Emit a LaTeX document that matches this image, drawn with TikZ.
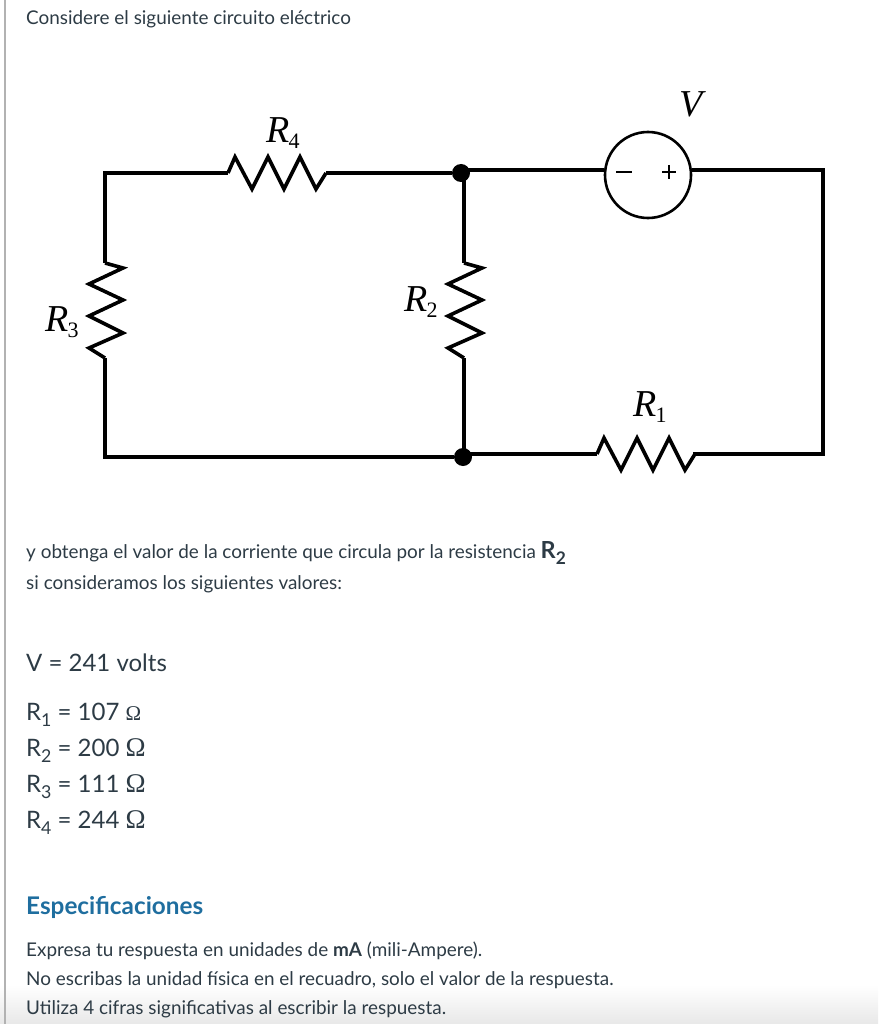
\documentclass[tikz,border=0pt]{standalone}
\usepackage{fontspec}
\setmainfont{Lato}
\newfontfamily\symbolfont{Liberation Serif}
\usetikzlibrary{positioning}
\definecolor{bodyink}{HTML}{2D3B45}
\definecolor{headink}{HTML}{1F6E9F}
\tikzset{
    wire/.style={line width=3.5pt, line join=miter},
    zigzag/.style={line width=3.6pt, line join=miter},
    junction/.style={circle, fill=black, inner sep=0pt, minimum size=18pt},
    source/.style={circle, draw, line width=2.6pt, inner sep=0pt, minimum size=86pt},
    symb/.style={inner sep=0pt, font=\symbolfont\itshape\fontsize{38}{38}\selectfont},
    txt/.style={anchor=base west, inner sep=0pt, text=bodyink, font=\fontsize{18.9}{22}\selectfont},
    big/.style={txt, font=\fontsize{24}{27}\selectfont}
}
\newcommand{\symsub}[2]{#1\kern-1pt\raisebox{-6pt}{\fontsize{22}{22}\selectfont\upshape #2}}
\newcommand{\lsub}[1]{\raisebox{-0.26em}{\fontsize{0.74em}{1em}\selectfont #1}}
\newcommand{\ohm}{{\symbolfont Ω}}
\newcommand{\hzig}{-- ++(7,-16) -- ++(17,32) -- ++(16,-32) -- ++(16,32) -- ++(16,-32) -- ++(16,32) -- ++(10,-16)}
\newcommand{\vzig}{-- ++(18,5) -- ++(-34,16) -- ++(34,16) -- ++(-34,16) -- ++(34,17) -- ++(-34,15) -- ++(16,10)}

\begin{document}
\begin{tikzpicture}[x=1pt, y=-1pt]
    \useasboundingbox (0,0) rectangle (878,1024);
    \shade[top color=white, bottom color=black!9] (0,985) rectangle (878,1024);
    \fill[black!30] (4,0) rectangle (6,1024);

    % circuit
    \coordinate (cornerA) at (105,173);
    \coordinate (cornerB) at (105,457);
    \coordinate (cornerC) at (823,170);
    \coordinate (cornerD) at (823,454);
    \coordinate (rFourIn) at (228,173);
    \coordinate (rFourOut) at (326,173);
    \coordinate (rThreeIn) at (105,263);
    \coordinate (rThreeOut) at (105,358);
    \coordinate (rTwoIn) at (464,263);
    \coordinate (rTwoOut) at (464,358);
    \coordinate (rOneIn) at (597,454);
    \coordinate (rOneOut) at (693,454);
    \node[junction] (jtop) at (461,173) {};
    \node[junction] (jbot) at (463,457) {};
    \node[source] (src) at (648,175) {};

    \draw[wire] (rThreeIn) -- (cornerA) -- (rFourIn);
    \draw[wire] (rFourOut) -- (jtop);
    \draw[wire] (rThreeOut) -- (cornerB) -- (jbot);
    \draw[wire] (464,173) -- (rTwoIn);
    \draw[wire] (rTwoOut) -- (464,457);
    \draw[wire] (jtop.center |- cornerC) -- (604,170);
    \draw[wire] (692,170) -- (cornerC) -- (cornerD) -- (rOneOut);
    \draw[wire] (jbot.center |- rOneIn) -- (rOneIn);

    \draw[zigzag] (rFourIn) \hzig;
    \draw[zigzag] (rOneIn) \hzig;
    \draw[zigzag] (rThreeIn) \vzig;
    \draw[zigzag] (rTwoIn) \vzig;

    \draw[line width=1.6pt] (616,172) -- (632,172);
    \draw[line width=1.6pt] (662,172) -- (676,172) (669,165) -- (669,179);

    \node[symb] (labV) at (691,104) {V};
    \node[symb] (labFour) at (283,133) {\symsub{R}{4}};
    \node[symb] (labThree) at (62,322) {\symsub{R}{3}};
    \node[symb] (labTwo) at (421,302) {\symsub{R}{2}};
    \node[symb] (labOne) at (650,407) {\symsub{R}{1}};

    % text
    \node[txt] (intro) at (26,25) {Considere el siguiente circuito eléctrico};
    \node[txt] (askA) at (26,558) {y obtenga el valor de la corriente que circula por la resistencia {\fontsize{23.5}{26}\selectfont\bfseries R\lsub{2}}};
    \node[txt] (askB) at (26,589) {si consideramos los siguientes valores:};
    \node[big] (valV) at (26,671) {V = 241 volts};
    \node[big] (valOne) at (26,720) {R\lsub{1} = 107 {\fontsize{21}{21}\selectfont\ohm}};
    \node[big] (valTwo) at (26,756) {R\lsub{2} = 200 {\fontsize{27}{27}\selectfont\ohm}};
    \node[big] (valThree) at (26,792) {R\lsub{3} = 111 {\fontsize{27}{27}\selectfont\ohm}};
    \node[big] (valFour) at (26,828) {R\lsub{4} = 244 {\fontsize{27}{27}\selectfont\ohm}};
    \node[txt, text=headink, font=\fontsize{24.3}{28}\selectfont\bfseries] (spec) at (26,914) {Especificaciones};
    \node[txt] (specA) at (26,956) {Expresa tu respuesta en unidades de \textbf{mA} (mili-Ampere).};
    \node[txt] (specB) at (26,985) {No escribas la unidad física en el recuadro, solo el valor de la respuesta.};
    \node[txt] (specC) at (26,1014) {Utiliza 4 cifras significativas al escribir la respuesta.};
\end{tikzpicture}
\end{document}
